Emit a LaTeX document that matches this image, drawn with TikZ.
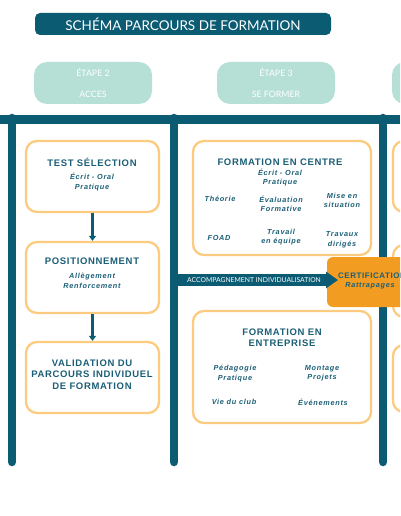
\documentclass[tikz,border=0pt]{standalone}
\usepackage{fontspec}
\setmainfont{Lato}
\newfontfamily\bxfont[LetterSpace=7]{Liberation Sans}
\newfontfamily\itfont[LetterSpace=10]{Liberation Sans}
\usetikzlibrary{arrows.meta}
\definecolor{dteal}{HTML}{0B5B73}
\definecolor{mint}{HTML}{B6E0D5}
\definecolor{ostroke}{HTML}{FCCB80}
\definecolor{ofill}{HTML}{F29C22}
\definecolor{ttext}{HTML}{1B5F77}
\tikzset{
 titlebar/.style={fill=dteal, rounded corners=5pt, minimum width=296pt, minimum height=22pt, text=white, font=\fontsize{13.5}{15}\selectfont, inner sep=0pt},
 pill/.style={fill=mint, rounded corners=13pt, minimum width=118pt, minimum height=42pt, text=white, font=\fontsize{8.8}{21}\selectfont, align=center, inner sep=0pt},
 bar/.style={draw=dteal, line width=8.5pt, line cap=round},
 obox/.style={draw=ostroke, line width=2.3pt, fill=white, rounded corners=11pt, inner sep=0pt},
 bt/.style={text=ttext, font=\bxfont\bfseries\fontsize{9.5}{11.5}\selectfont, align=center, inner sep=0pt},
 ct/.style={text=ttext, font=\bxfont\bfseries\fontsize{8}{9}\selectfont, align=center, inner sep=0pt},
 st/.style={text=ttext, font=\itfont\bfseries\itshape\fontsize{7.3}{9.5}\selectfont, align=center, inner sep=0pt},
 flow/.style={draw=dteal, line width=2.5pt, -{Triangle[length=5pt,width=7pt]}},
 accband/.style={draw=dteal, line width=12pt, -{Triangle[length=12pt,width=16pt]}},
}
\begin{document}
\begin{tikzpicture}[x=1pt,y=-1pt]
\useasboundingbox (0,0) rectangle (400,516);
\clip (0,0) rectangle (400,516);
% header
\node[titlebar] (title) at (183,24) {SCHÉMA PARCOURS DE FORMATION};
\node[pill] (e2) at (93,83) {ÉTAPE 2\\ACCES};
\node[pill] (e3) at (276,83) {ÉTAPE 3\\SE FORMER};
\node[pill] (e4) at (451,83) {};
% structure bars
\fill[dteal] (0,115) rectangle (400,124);
\draw[bar] (12,118) -- (12,462);
\draw[bar] (174,118) -- (174,462);
\draw[bar] (383,118) -- (383,462);
% column 1
\node[obox, minimum width=133pt, minimum height=71pt] (test) at (92.5,176.5) {};
\node[obox, minimum width=133pt, minimum height=71pt] (pos) at (92.5,277.5) {};
\node[obox, minimum width=133pt, minimum height=71pt] (valid) at (92.5,377.5) {};
\draw[flow] (test) -- (pos);
\draw[flow] (pos) -- (valid);
\node[bt] (testT) at (92,162) {TEST SÉLECTION};
\node[st] (testS) at (92,182) {Écrit - Oral\\Pratique};
\node[bt] (posT) at (92,261) {POSITIONNEMENT};
\node[st] (posS) at (92,281) {Allègement\\Renforcement};
\node[bt] (validT) at (92,374.5) {VALIDATION DU\\PARCOURS INDIVIDUEL\\DE FORMATION};
% column 2
\node[obox, minimum width=178pt, minimum height=114pt] (centre) at (282,198) {};
\node[obox, minimum width=178pt, minimum height=112pt] (entr) at (282,367) {};
\node[bt] (centreT) at (280,162) {FORMATION EN CENTRE};
\node[st] (centreS) at (280,177.5) {Écrit - Oral\\Pratique};
\node[st] (c1) at (220,199) {Théorie};
\node[st] (c2) at (281,204) {Évaluation\\Formative};
\node[st] (c3) at (342,200.5) {Mise en\\situation};
\node[st] (c4) at (219,238) {FOAD};
\node[st] (c5) at (281,237) {Travail\\en équipe};
\node[st] (c6) at (342,239.5) {Travaux\\dirigés};
\node[bt] (entrT) at (282,337.5) {FORMATION EN\\ENTREPRISE};
\node[st] (e1) at (235,373.5) {Pédagogie\\Pratique};
\node[st] (e2b) at (322,373) {Montage\\Projets};
\node[st] (e3b) at (234,402) {Vie du club};
\node[st] (e4b) at (323,402) {Événements};
% column 4 (partial)
\node[obox, minimum width=133pt, minimum height=71pt] (d1) at (459.5,176.5) {};
\node[obox, minimum width=133pt, minimum height=72pt] (d2) at (459.5,281) {};
\node[obox, minimum width=133pt, minimum height=67pt] (d3) at (459.5,378.5) {};
% certification
\node[fill=ofill, rounded corners=6pt, minimum width=110pt, minimum height=50pt, inner sep=0pt] (cert) at (382,282) {};
\coordinate (accS) at (178,280);
\coordinate (accE) at (338,280);
\draw[accband] (accS) -- (accE);
\node[text=white, font=\fontsize{6.8}{7}\selectfont, inner sep=0pt] (acc) at (254,280.5) {ACCOMPAGNEMENT INDIVIDUALISATION};
\node[ct] (certT) at (372,276) {CERTIFICATION};
\node[st] (certS) at (370,285.5) {Rattrapages};
\end{tikzpicture}
\end{document}
